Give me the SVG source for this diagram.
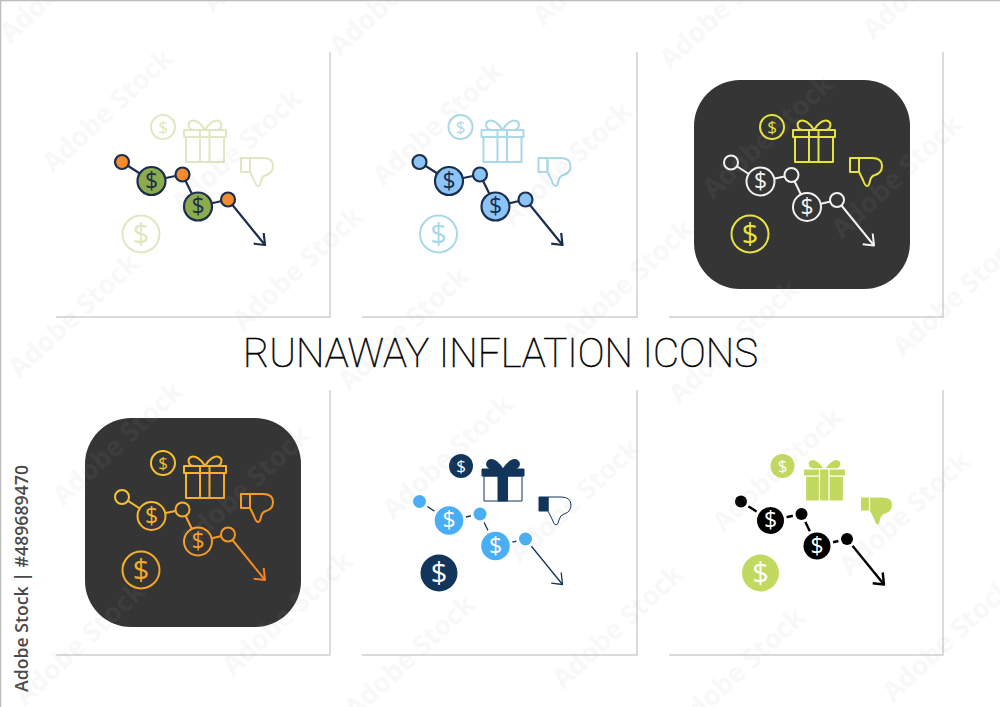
<svg xmlns="http://www.w3.org/2000/svg" width="1000" height="707" viewBox="0 0 1000 707">
<style>
.panel{fill:none;stroke:#cfcfcf;stroke-width:1.5}
.tile{fill:#353535}
.ln{fill:none;stroke:var(--l);stroke-width:var(--lw);stroke-linejoin:round}
.nd{r:var(--nr);fill:var(--nf);stroke:var(--ns);stroke-width:var(--nw);paint-order:var(--po)}
.cn{r:var(--cr);fill:var(--cf);stroke:var(--cs);stroke-width:var(--nw);paint-order:var(--po)}
.cd{fill:var(--cd);font-family:"Open Sans","Liberation Sans",sans-serif;font-weight:500;font-size:23px;text-anchor:middle}
.dc{fill:var(--df);stroke:var(--ds);stroke-width:var(--dw)}
.dd{fill:var(--dd);font-family:"Open Sans","Liberation Sans",sans-serif;text-anchor:middle}
.gb{fill:var(--gb);stroke:var(--gs);stroke-width:var(--gw);stroke-linejoin:round}
.gf{fill:var(--gf);stroke:var(--gs);stroke-width:var(--gw);stroke-linejoin:round}
.gh{fill:var(--gh);stroke:var(--gs);stroke-width:var(--gw);stroke-linejoin:round}
.icon{opacity:.999}
.title{font-family:"Roboto","Liberation Sans",sans-serif;font-weight:100;font-size:41px;fill:#000;stroke:#000;stroke-width:.55;text-anchor:middle}
.stock{font-family:"Open Sans","Liberation Sans",sans-serif;font-weight:600;font-size:18px;fill:#4a4a4a}
.wm{font-family:"Open Sans","Liberation Sans",sans-serif;font-weight:700;font-size:27px;fill:#aaa;opacity:.07}
</style>
<defs>
<linearGradient id="g4" gradientUnits="userSpaceOnUse" x1="110" y1="105" x2="270" y2="255">
<stop offset="0" stop-color="#f8da30"/><stop offset="1" stop-color="#f47a20"/>
</linearGradient>
<g id="chart">
<path class="ln" d="M122 162L151.500 181L182.500 174.500L198 206.500L228 199.500L265 245"/>
<path class="ln" d="M253.700 243.700L265 245L263.700 233"/>
<circle class="nd" cx="122" cy="162"/>
<circle class="nd" cx="182.500" cy="174.500"/>
<circle class="nd" cx="228" cy="199.500"/>
<circle class="cn" cx="151.500" cy="181"/>
<circle class="cn" cx="198" cy="206.500"/>
<text class="cd" x="151.500" y="188.700">$</text>
<text class="cd" x="198" y="214.200">$</text>
</g>
<g id="extras">
<circle class="dc" cx="163" cy="127" r="12"/>
<text class="dd" x="163" y="132.800" font-size="17">$</text>
<circle class="dc" cx="141" cy="234" r="18.500"/>
<text class="dd" x="141" y="243.700" font-size="29">$</text>
<path class="gf" d="M205 130C201 123 195 119 191 121C187 123 188 130 194 130Z"/>
<path class="gf" d="M205 130C209 123 215 119 219 121C223 123 222 130 216 130Z"/>
<rect class="gb" x="186" y="137" width="38" height="25"/>
<rect class="gh" x="184" y="130" width="42" height="7"/>
<rect class="gh" x="200" y="130" width="9.500" height="32"/>
<path class="gb" d="M250 158H263Q273 158 273 166Q273 173 266 175Q262 176 261 181Q260 186 258 186Q256 186 254 180L250 172Z"/>
<rect class="gh" x="241" y="158" width="9" height="14"/>
</g>
<g id="marks">
<text class="wm" transform="translate(340 57) rotate(-43)">Adobe Stock</text>
<text class="wm" transform="translate(383 187) rotate(-43)">Adobe Stock</text>
<text class="wm" transform="translate(512 227) rotate(-43)">Adobe Stock</text>
<text class="wm" transform="translate(543 27) rotate(-43)">Adobe Stock</text>
<text class="wm" transform="translate(349 392) rotate(-43)">Adobe Stock</text>
<text class="wm" transform="translate(573 345) rotate(-43)">Adobe Stock</text>
<text class="wm" transform="translate(393 520) rotate(-43)">Adobe Stock</text>
<text class="wm" transform="translate(520 564) rotate(-43)">Adobe Stock</text>
<text class="wm" transform="translate(355 720) rotate(-43)">Adobe Stock</text>
<text class="wm" transform="translate(563 690) rotate(-43)">Adobe Stock</text>
</g>
</defs>
<rect width="1000" height="707" fill="#fff"/>
<path d="M0.500 0V707M0 0.500H1000" stroke="#bdbdbd" stroke-width="1.500"/>
<g id="panels">
<path class="panel" d="M330 52V317H56"/>
<path class="panel" d="M637 52V317H362"/>
<path class="panel" d="M943 52V317H669"/>
<path class="panel" d="M330 390V655H56"/>
<path class="panel" d="M637 390V655H362"/>
<path class="panel" d="M943 390V655H669"/>
</g>
<text id="title" class="title" x="500.500" y="367" textLength="515" lengthAdjust="spacingAndGlyphs">RUNAWAY INFLATION ICONS</text>
<text id="stock-id" class="stock" transform="translate(28 692) rotate(-90)" textLength="227" lengthAdjust="spacingAndGlyphs">Adobe Stock | #489689470</text>
<g id="icon-1" class="icon" style="--l:#1a2e4f;--lw:2.200;--nf:#f68a2e;--ns:#1a2e4f;--nw:2.200;--nr:7;--cr:14;--po:normal;--cf:#8cab4c;--cs:#1a2e4f;--cd:#1a2e4f;--df:none;--ds:#dfe8c2;--dw:2;--dd:#dfe8c2;--gb:none;--gf:none;--gh:none;--gs:#dfe8c2;--gw:2">
<use href="#extras"/><use href="#chart"/>
</g>
<g id="icon-2" class="icon" style="--l:#1a2e4f;--lw:2.200;--nf:#8cc4f5;--ns:#1a2e4f;--nw:2.200;--nr:7;--cr:14;--po:normal;--cf:#8cc4f5;--cs:#1a2e4f;--cd:#1a2e4f;--df:none;--ds:#a9d8ea;--dw:2;--dd:#a9d8ea;--gb:none;--gf:none;--gh:none;--gs:#a9d8ea;--gw:2">
<use href="#extras" x="297.500"/><use href="#chart" x="297.500"/>
</g>
<rect id="tile-3" class="tile" x="694" y="80" width="216" height="209" rx="46"/>
<g id="icon-3" class="icon" style="--l:#f2f2f2;--lw:2;--nf:#353535;--ns:#f2f2f2;--nw:2;--nr:7;--cr:14;--po:normal;--cf:#353535;--cs:#f2f2f2;--cd:#f2f2f2;--df:none;--ds:#e6e33f;--dw:2;--dd:#e6e33f;--gb:none;--gf:none;--gh:none;--gs:#e6e33f;--gw:2">
<use href="#extras" x="609"/><use href="#chart" x="609" y="0.500"/>
</g>
<rect id="tile-4" class="tile" x="85" y="418" width="216" height="209" rx="46"/>
<g id="icon-4" class="icon" style="--l:url(#g4);--lw:2;--nf:#353535;--ns:url(#g4);--nw:2;--nr:7;--cr:14;--po:normal;--cf:#353535;--cs:url(#g4);--cd:url(#g4);--df:none;--ds:url(#g4);--dw:2;--dd:url(#g4);--gb:none;--gf:none;--gh:none;--gs:url(#g4);--gw:2">
<use href="#extras" y="336"/><use href="#chart" y="335"/>
</g>
<g id="icon-5" class="icon" style="--l:#12355b;--lw:1.300;--nf:#4aaef5;--ns:#fff;--nw:6;--nr:6.500;--cr:14.300;--po:stroke;--cf:#4aaef5;--cs:#fff;--cd:#fff;--df:#12355b;--ds:none;--dw:0;--dd:#fff;--gb:none;--gf:#12355b;--gh:#12355b;--gs:#12355b;--gw:1">
<use href="#extras" x="298" y="339"/><use href="#chart" x="297.500" y="339.500"/>
</g>
<g id="icon-6" class="icon" style="--l:#000;--lw:2.400;--nf:#000;--ns:#fff;--nw:6;--nr:6;--cr:13.500;--po:stroke;--cf:#000;--cs:#fff;--cd:#fff;--df:#c2d95f;--ds:none;--dw:0;--dd:#fff;--gb:#c2d95f;--gf:#c2d95f;--gh:#c2d95f;--gs:#fff;--gw:1.200">
<use href="#extras" x="619.500" y="339"/><use href="#chart" x="619" y="339.500"/>
</g>
<g id="watermark">
<use href="#marks" x="-330" y="-13"/><use href="#marks"/><use href="#marks" x="330" y="13"/>
</g>
</svg>
